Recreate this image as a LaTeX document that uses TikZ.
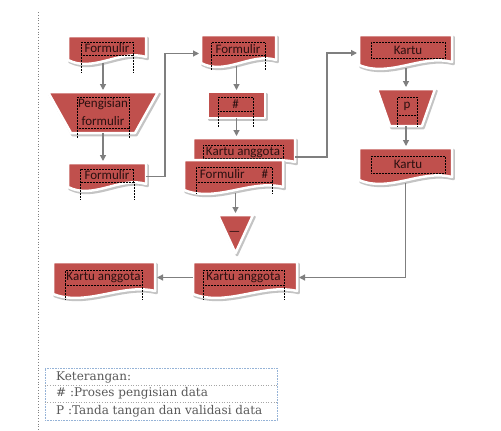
\documentclass[tikz,border=0pt]{standalone}
\usepackage{fontspec}
\setmainfont{Carlito}
\newfontfamily\legfont{DejaVu Serif}
\usetikzlibrary{calc,arrows.meta}
\definecolor{boxred}{HTML}{C0504D}
\definecolor{txt}{HTML}{2A1010}
\definecolor{linec}{HTML}{7F7F7F}
\definecolor{shadowc}{HTML}{C4C4C4}
\definecolor{legline}{HTML}{95B3D7}
\definecolor{legtxt}{HTML}{595959}
\tikzset{
 anchorbox/.style={draw=none, inner sep=0pt, outer sep=0pt},
 shapefill/.style={fill=boxred, draw=white, line width=2.5pt, line join=round},
 shapeshadow/.style={fill=shadowc, draw=shadowc, line width=2.5pt, line join=round, transform canvas={shift={(1.5pt,-2pt)}}},
 lbl/.style={draw=black, densely dotted, line width=0.5pt, inner sep=0pt, minimum height=13pt, text=txt, font=\fontsize{13}{15}\selectfont},
 ext/.style={draw=black, densely dotted, line width=0.5pt},
 arr/.style={draw=linec, line width=1.2pt, -{Triangle[length=6pt,width=6pt]}, shorten >=2pt},
 legtext/.style={anchor=west, inner sep=0pt, text=legtxt, font=\legfont\fontsize{12}{14}\selectfont},
 legsep/.style={draw=gray!70, dotted, line width=0.6pt},
}
\newcommand\twice[1]{\path[shapeshadow] #1; \path[shapefill] #1;}
\newcommand\docshape[1]{\twice{(#1.north west) -- (#1.north east) -- ($(#1.south east)+(0pt,6pt)$) .. controls ($(#1.south)!0.35!(#1.south east)+(0pt,14pt)$) and ($(#1.south)!0.35!(#1.south west)+(0pt,-10pt)$) .. ($(#1.south west)+(0pt,3pt)$) -- cycle}}
\newcommand\trapshape[2]{\twice{(#1.north west) -- (#1.north east) -- ($(#1.south east)+(-#2pt,0pt)$) -- ($(#1.south west)+(#2pt,0pt)$) -- cycle}}
\newcommand\rectshape[1]{\twice{(#1.north west) rectangle (#1.south east)}}
\newcommand\trishape[1]{\twice{(#1.north west) -- (#1.north east) -- (#1.south) -- cycle}}
\begin{document}
\begin{tikzpicture}[x=1pt,y=-1pt]
\useasboundingbox (0,0) rectangle (501,431);
\fill[white] (0,0) rectangle (501,431);
\draw[gray, dotted, line width=0.8pt] (38,12) -- (38,431);

% column 1
\node[anchorbox, minimum width=78pt, minimum height=27pt] (f1) at (107,49.5) {};
\docshape{f1}
\node[lbl, minimum width=52pt] (f1t) at (107,48.5) {Formulir};
\draw[ext] (f1t.south west) -- ++(0,17) (f1t.south east) -- ++(0,17);

\node[anchorbox, minimum width=110pt, minimum height=41pt] (t1) at (103,112.5) {};
\trapshape{t1}{23}
\node[lbl, minimum width=52pt, minimum height=31pt, align=center, font=\fontsize{13}{18}\selectfont] (t1t) at (103,112.5) {Pengisian\\formulir};
\draw[ext] (t1t.south west) -- ++(0,10) (t1t.south east) -- ++(0,10);

\node[anchorbox, minimum width=78pt, minimum height=27pt] (f2) at (107,176.5) {};
\docshape{f2}
\node[lbl, minimum width=53pt] (f2t) at (107,175.5) {Formulir};
\draw[ext] (f2t.south west) -- ++(0,17) (f2t.south east) -- ++(0,17);

% column 2
\node[anchorbox, minimum width=75pt, minimum height=31pt] (f3) at (238.5,50.5) {};
\docshape{f3}
\node[lbl, minimum width=54pt] (f3t) at (238,49) {Formulir};
\draw[ext] (f3t.south west) -- ++(0,14) (f3t.south east) -- ++(0,14);

\node[anchorbox, minimum width=57pt, minimum height=26pt] (h) at (236.5,105) {};
\rectshape{h}
\node[lbl, minimum width=35pt, minimum height=14pt] (ht) at (235.5,104) {\#};
\draw[ext] (ht.south west) -- ++(0,16) (ht.south east) -- ++(0,16);

\node[anchorbox, minimum width=102pt, minimum height=30pt] (ka1) at (244,153) {};
\docshape{ka1}
\node[lbl, minimum width=80pt] (ka1t) at (243,152) {Kartu anggota};

\node[anchorbox, minimum width=99pt, minimum height=33pt] (fh) at (233.5,176.5) {};
\docshape{fh}
\node[lbl, minimum width=76pt, minimum height=15pt] (fht) at (234,174.5) {Formulir\hspace{1.3em}\#};
\draw[ext] (fht.south west) -- ++(0,11) (fht.south east) -- ++(0,11);

\node[anchorbox, minimum width=35pt, minimum height=38pt] (tri) at (235.5,234) {};
\trishape{tri}
\node[inner sep=0pt, text=txt, font=\fontsize{13}{15}\selectfont] (trit) at (234.5,233) {—};

\node[anchorbox, minimum width=104pt, minimum height=35pt] (ka2) at (245,279.5) {};
\docshape{ka2}
\node[lbl, minimum width=81pt, minimum height=15pt] (ka2t) at (243.5,277.5) {Kartu anggota};
\draw[ext] (ka2t.south west) -- ++(0,15) (ka2t.south east) -- ++(0,15);

\node[anchorbox, minimum width=102pt, minimum height=35pt] (ka3) at (104,279.5) {};
\docshape{ka3}
\node[lbl, minimum width=77pt, minimum height=15pt] (ka3t) at (103.5,277.5) {Kartu anggota};
\draw[ext] (ka3t.south west) -- ++(0,15) (ka3t.south east) -- ++(0,15);

% column 3
\node[anchorbox, minimum width=93pt, minimum height=33pt] (k1) at (405.5,51.5) {};
\docshape{k1}
\node[lbl, minimum width=74pt, minimum height=16pt] (k1t) at (408,50) {Kartu};

\node[anchorbox, minimum width=58pt, minimum height=37pt] (p) at (406,107.5) {};
\trapshape{p}{13}
\node[lbl, minimum width=20pt, minimum height=18pt] (pt) at (407,106) {p};
\draw[ext] (pt.south west) -- ++(0,11) (pt.south east) -- ++(0,11);

\node[anchorbox, minimum width=93pt, minimum height=35pt] (k2) at (405.5,165.5) {};
\docshape{k2}
\node[lbl, minimum width=74pt, minimum height=17pt] (k2t) at (408,164.5) {Kartu};

% connectors
\draw[arr] (f1.south -| t1.north) -- (t1.north);
\draw[arr] (t1.south) -- (t1.south |- f2.north);
\draw[arr] (f2.east) -- ++(19,0) |- ([yshift=-3pt]f3.west);
\draw[arr] (f3.south -| h.north) -- (h.north);
\draw[arr] (h.south) -- (h.south |- ka1.north);
\draw[arr] (fh.south -| tri.north) -- (tri.north);
\draw[arr] ([yshift=-4pt]ka1.east) -- ++(32,0) |- ([yshift=-1.5pt]k1.west);
\draw[arr] (k1.south -| p.north) -- (p.north);
\draw[arr] (p.south) -- (p.south |- k2.north);
\draw[arr] (k2.south) |- ([yshift=2pt]ka2.east);
\draw[arr] ([yshift=2pt]ka2.west) -- ([yshift=2pt]ka3.east);

% legend
\node[draw=legline, densely dotted, line width=0.6pt, minimum width=232pt, minimum height=52pt, inner sep=0pt] (leg) at (161,394) {};
\draw[legsep] (leg.west |- 0,385.5) -- (leg.east |- 0,385.5);
\draw[legsep] (leg.west |- 0,402) -- (leg.east |- 0,402);
\node[legtext] (l1) at (56,377) {Keterangan:};
\node[legtext] (l2) at (56,393.5) {\# :Proses pengisian data};
\node[legtext] (l3) at (56,411) {P :Tanda tangan dan validasi data};
\end{tikzpicture}
\end{document}
